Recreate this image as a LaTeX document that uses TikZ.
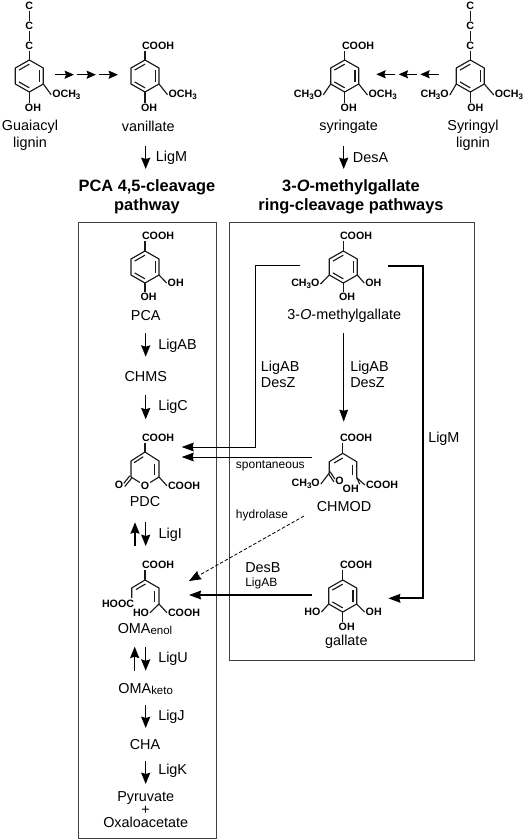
\documentclass[tikz,border=0pt]{standalone}
\usepackage{fontspec}
\setmainfont{Liberation Sans}
\usetikzlibrary{calc,arrows.meta}
\newcommand\chemsub[1]{\raisebox{-0.25ex}{\fontsize{6}{6}\selectfont #1}}
\newcommand\smalltail[1]{\raisebox{-0.15ex}{\fontsize{8.6}{9}\selectfont #1}}
\tikzset{
  lab/.style={inner sep=0pt,font=\fontsize{10.8}{12}\selectfont},
  head/.style={inner sep=0pt,font=\fontsize{12.3}{14}\selectfont\bfseries},
  minor/.style={inner sep=0pt,font=\fontsize{9}{10}\selectfont},
  chem/.style={inner sep=0.6pt,font=\fontsize{8}{9}\selectfont\bfseries},
  bond/.style={line width=0.85pt,black!90},
  panel/.style={draw=black!75,line width=0.85pt},
  rxn/.style={line width=1.1pt,-{Stealth[length=8.5pt,width=6.8pt,inset=1pt]}},
  mini/.style={line width=1.1pt,-{Stealth[length=7pt,width=6pt,inset=1pt]}},
  thin rxn/.style={line width=0.75pt,-{Stealth[length=9pt,width=6.5pt,inset=0.8pt]}},
  bold rxn/.style={line width=1.35pt,-{Stealth[length=9pt,width=6.5pt,inset=0.8pt]}},
  dash rxn/.style={line width=0.6pt,dashed,dash pattern=on 2.6pt off 1.5pt,-{Stealth[length=9pt,width=7pt,inset=0.8pt]}},
}
% hexagon with three inner double bonds
\newcommand\benzene[3]{%
  \coordinate (#1c) at (#2,#3);
  \coordinate (#11) at (#2,{#3-16});
  \coordinate (#12) at ({#2+14},{#3-8});
  \coordinate (#13) at ({#2+14},{#3+8});
  \coordinate (#14) at (#2,{#3+16});
  \coordinate (#15) at ({#2-14},{#3+8});
  \coordinate (#16) at ({#2-14},{#3-8});
  \draw[bond,line join=round] (#11)--(#12)--(#13)--(#14)--(#15)--(#16)--cycle;
  \draw[bond] ($(#1c)!0.74!(#16)$)--($(#1c)!0.74!(#11)$);
  \draw[bond] ($(#1c)!0.74!(#12)$)--($(#1c)!0.74!(#13)$);
  \draw[bond] ($(#1c)!0.74!(#14)$)--($(#1c)!0.74!(#15)$);
}
% named straight arrow
\newcommand\step[6]{%
  \coordinate (#1a) at (#3,#4);
  \coordinate (#1b) at (#5,#6);
  \draw[#2] (#1a)--(#1b);
}
\begin{document}
\begin{tikzpicture}[x=0.75pt,y=-0.75pt]
\useasboundingbox (0,0) rectangle (524,840);
\fill[white] (0,0) rectangle (524,840);

% panels
\node[panel,draw,minimum width=103.5pt,minimum height=462pt,anchor=north west,inner sep=0pt] (leftpanel) at (78,222) {};
\node[panel,draw,minimum width=184pt,minimum height=328.5pt,anchor=north west,inner sep=0pt] (rightpanel) at (228.7,222) {};

% Guaiacyl lignin
\benzene{ga}{29.3}{76}
\node[chem] (gac1) at (29.3,6) {C};
\node[chem] (gac2) at (29.3,26) {C};
\node[chem] (gac3) at (29.3,46) {C};
\draw[bond] (gac1)--(gac2);
\draw[bond] (gac2)--(gac3);
\draw[bond] (gac3)--(ga1);
\node[chem,anchor=west] (gaome) at (51.2,94.7) {OCH\chemsub{3}};
\draw[bond] (ga3)--(gaome.west);
\node[chem] (gaoh) at (33,108) {OH};
\draw[bond] (ga4)--(ga4 |- gaoh.north);
\node[lab] (galab) at (30,126.7) {Guaiacyl};
\node[lab] (galab2) at (30,143.3) {lignin};

% vanillate
\benzene{va}{145}{76}
\node[chem] (vacooh) at (158,46) {COOH};
\draw[bond] (va1)--(va1 |- vacooh.south);
\node[chem,anchor=west] (vaome) at (167.5,94.7) {OCH\chemsub{3}};
\draw[bond] (va3)--(vaome.west);
\node[chem] (vaoh) at (149,108) {OH};
\draw[bond] (va4)--(va4 |- vaoh.north);
\node[lab] (valab) at (148.3,126.7) {vanillate};

\step{gv1}{mini}{55}{74.7}{74}{74.7}
\step{gv2}{mini}{77.3}{74.7}{96}{74.7}
\step{gv3}{mini}{99.3}{74.7}{118}{74.7}

% syringate
\benzene{sy}{344.7}{76}
\node[chem] (sycooh) at (358,46) {COOH};
\draw[bond] (sy1)--(sy1 |- sycooh.south);
\node[chem,anchor=east] (syl) at (323.2,95) {CH\chemsub{3}O};
\draw[bond] (sy5)--(syl.east);
\node[chem,anchor=west] (syr) at (367.5,95) {OCH\chemsub{3}};
\draw[bond] (sy3)--(syr.west);
\node[chem] (syoh) at (348.7,108) {OH};
\draw[bond] (sy4)--(sy4 |- syoh.north);
\node[lab] (sylab) at (348.7,126.7) {syringate};

% Syringyl lignin
\benzene{sl}{470.3}{76}
\node[chem] (slc1) at (470.3,6) {C};
\node[chem] (slc2) at (470.3,26) {C};
\node[chem] (slc3) at (470.3,46) {C};
\draw[bond] (slc1)--(slc2);
\draw[bond] (slc2)--(slc3);
\draw[bond] (slc3)--(sl1);
\node[chem,anchor=east] (sll) at (449.8,95) {CH\chemsub{3}O};
\draw[bond] (sl5)--(sll.east);
\node[chem,anchor=west] (slr) at (493.8,95) {OCH\chemsub{3}};
\draw[bond] (sl3)--(slr.west);
\node[chem] (sloh) at (475.3,108) {OH};
\draw[bond] (sl4)--(sl4 |- sloh.north);
\node[lab] (sllab) at (473,126.7) {Syringyl};
\node[lab] (sllab2) at (473,143.3) {lignin};

\step{ss1}{mini}{438.7}{74.3}{420.3}{74.3}
\step{ss2}{mini}{417}{74.3}{398.7}{74.3}
\step{ss3}{mini}{395.3}{74.3}{376.3}{74.3}

% entry arrows
\step{ligm}{rxn}{145.7}{146}{145.7}{169}
\node[lab,anchor=west] (ligmlab) at (155.7,158) {LigM};
\step{desa}{rxn}{343.7}{146}{343.7}{169}
\node[lab,anchor=west] (desalab) at (352.7,158) {DesA};

% headings
\node[head] (h1) at (147,187) {PCA 4,5-cleavage};
\node[head] (h2) at (147,206.5) {pathway};
\node[head] (h3) at (351,187) {3-\textit{O}-methylgallate};
\node[head] (h4) at (351,206.5) {ring-cleavage pathways};

% PCA
\benzene{pc}{145}{267}
\node[chem] (pccooh) at (158,236) {COOH};
\draw[bond] (pc1)--(pc1 |- pccooh.south);
\node[chem] (pcoh) at (175.7,283) {OH};
\draw[bond] (pc3)--(pcoh.west);
\node[chem] (pcoh2) at (148.7,297) {OH};
\draw[bond] (pc4)--(pc4 |- pcoh2.north);
\node[lab] (pclab) at (145.7,316) {PCA};

\step{ligab}{rxn}{145.7}{333.3}{145.7}{356.7}
\node[lab,anchor=west] (ligablab) at (158,346) {LigAB};
\node[lab] (chms) at (145.7,377) {CHMS};
\step{ligc}{rxn}{145.7}{395}{145.7}{419.3}
\node[lab,anchor=west] (ligclab) at (158,407) {LigC};

% PDC
\coordinate (pd1) at (145,452);
\coordinate (pd2) at (159,461);
\coordinate (pd3) at (159,477);
\coordinate (pd5) at (131,477);
\coordinate (pd6) at (131,461);
\node[chem] (pdo) at (145,485.7) {O};
\node[chem] (pdcooh) at (158,438) {COOH};
\draw[bond] (pd1)--(pd1 |- pdcooh.south);
\draw[bond,line join=round] (pdo)--(pd3)--(pd2)--(pd1)--(pd6)--(pd5)--(pdo);
\draw[bond] ($(pd1)!0.2!(pd6)+(1,3)$)--($(pd1)!0.85!(pd6)+(1,3)$);
\draw[bond] (154.5,464)--(154.5,475);
\node[chem] (pdk) at (119,485) {O};
\draw[bond] ($(pd5)+(-1.2,-1.2)$)--($(pdk.east)+(-0.5,-1.6)$);
\draw[bond] ($(pd5)+(0.6,1.2)$)--($(pdk.east)+(0.5,1.6)$);
\node[chem] (pdc2) at (184,485.7) {COOH};
\draw[bond] (pd3)--(pdc2.west);
\node[lab] (pdlab) at (145,502) {PDC};

% LigI
\step{ligiu}{rxn}{135}{546}{135}{522.3}
\step{ligid}{rxn}{145.7}{522.3}{145.7}{546}
\node[lab,anchor=west] (ligilab) at (158.3,535) {LigI};

% OMA enol
\coordinate (om1) at (145,580);
\coordinate (om2) at (159,588);
\coordinate (om3) at (159,604);
\coordinate (om6) at (131.7,588);
\node[chem] (omcooh) at (158,565) {COOH};
\draw[bond] (om1)--(om1 |- omcooh.south);
\node[chem] (omhooc) at (118,604) {HOOC};
\node[chem] (omho) at (141,612.7) {HO};
\node[chem] (omc2) at (184,612.7) {COOH};
\coordinate (om5) at (131.7,598);
\draw[bond,line join=round] (om5)--(om6)--(om1)--(om2)--(om3);
\draw[bond] (om3)--(omho.east);
\draw[bond] (om3)--(omc2.west);
\draw[bond] (136,589.5)--(145.5,584);
\draw[bond] (154.5,591)--(154.5,602);
\node[lab] (omlab) at (145,629) {OMA\smalltail{enol}};

% LigU
\step{liguu}{rxn}{134.7}{670.7}{134.7}{646.7}
\step{ligud}{rxn}{145.7}{646.7}{145.7}{670.7}
\node[lab,anchor=west] (ligulab) at (158,659) {LigU};
\node[lab] (omk) at (145.7,688.7) {OMA\smalltail{keto}};
\step{ligj}{rxn}{145.7}{705}{145.7}{728}
\node[lab,anchor=west] (ligjlab) at (158,717) {LigJ};
\node[lab] (cha) at (145,745) {CHA};
\step{ligk}{rxn}{145.7}{760.7}{145.7}{784}
\node[lab,anchor=west] (ligklab) at (158,771) {LigK};
\node[lab] (pyr) at (145.7,798) {Pyruvate};
\node[lab] (plus) at (145.7,810) {+};
\node[lab] (oxa) at (145.7,822) {Oxaloacetate};

% 3-O-methylgallate
\benzene{mg}{343.3}{267}
\node[chem] (mgcooh) at (356,236) {COOH};
\draw[bond] (mg1)--(mg1 |- mgcooh.south);
\node[chem,anchor=east] (mgl) at (320.5,284) {CH\chemsub{3}O};
\draw[bond] (mg5)--(mgl.east);
\node[chem] (mgoh) at (373.3,283) {OH};
\draw[bond] (mg3)--(mgoh.west);
\node[chem] (mgoh2) at (347,297) {OH};
\draw[bond] (mg4)--(mg4 |- mgoh2.north);
\node[lab] (mglab) at (344.3,316) {3-\textit{O}-methylgallate};

\step{mid}{thin rxn}{343.7}{333}{343.7}{421.7}
\node[lab,anchor=west,align=left] (midlab) at (350,374) {LigAB\\DesZ};
\node[lab,anchor=west,align=left] (leftlab) at (260.7,374) {LigAB\\DesZ};

% branch from 3-O-methylgallate to PDC
\coordinate (b1s) at (300,265.7);
\coordinate (b1c) at (255.3,265.7);
\coordinate (b1e) at (181.7,447);
\draw[thin rxn] (b1s)--(b1c)--(b1c |- b1e)--(b1e);

% branch to gallate
\coordinate (b2s) at (387.7,265.7);
\coordinate (b2c) at (423.3,265.7);
\coordinate (b2e) at (388.3,598.3);
\draw[bold rxn] (b2s)--(b2c)--(b2c |- b2e)--(b2e);
\node[lab,anchor=west] (ligmr) at (428,439) {LigM};

% CHMOD
\coordinate (ch1) at (342.7,453.3);
\coordinate (ch2) at (356.7,461.7);
\coordinate (ch3) at (356.7,477.7);
\coordinate (ch5) at (329.3,473);
\coordinate (ch6) at (329.3,461.7);
\node[chem] (chcooh) at (356,438) {COOH};
\draw[bond] (ch1)--(ch1 |- chcooh.south);
\draw[bond,line join=round] (ch3)--(ch2)--(ch1)--(ch6)--(ch5);
\draw[bond] (334,463)--(342.7,458);
\draw[bond] (352.5,464.5)--(352.5,475);
\node[chem] (cho) at (339.5,480.5) {O};
\draw[bond] ($(ch5)+(0.8,-1.3)$)--($(cho.west)+(0.5,-1.6)$);
\draw[bond] ($(ch5)+(-0.6,1)$)--($(cho.west)+(-0.3,1.4)$);
\node[chem] (chl) at (305.7,484) {CH\chemsub{3}O};
\draw[bond] (ch5)--(chl.east);
\node[chem] (choh) at (350.7,489) {OH};
\draw[bond] (ch3)--(choh.north east);
\node[chem] (chc2) at (382,485) {COOH};
\draw[bond] (ch3)--(chc2.west);
\node[lab] (chlab) at (344,506.7) {CHMOD};

% spontaneous and hydrolase
\coordinate (sps) at (312,457);
\coordinate (spe) at (181.7,457);
\draw[thin rxn] (sps)--(spe);
\node[minor,anchor=west] (splab) at (235.7,465.5) {spontaneous};
\node[minor,anchor=west] (hylab) at (235.7,515.7) {hydrolase};
\coordinate (hys) at (304,516);
\coordinate (hye) at (189,581);
\draw[dash rxn] (hys)--(hye);

% gallate
\benzene{gl}{342.7}{596}
\node[chem] (glcooh) at (356,565) {COOH};
\draw[bond] (gl1)--(gl1 |- glcooh.south);
\node[chem] (glho) at (312.3,612) {HO};
\draw[bond] (gl5)--(glho.east);
\node[chem] (gloh) at (373.7,612) {OH};
\draw[bond] (gl3)--(gloh.west);
\node[chem] (gloh2) at (346.7,626.7) {OH};
\draw[bond] (gl4)--(gl4 |- gloh2.north);
\node[lab] (gllab) at (346.3,642) {gallate};

% DesB
\coordinate (dbs) at (312,595);
\coordinate (dbe) at (189,595);
\draw[bold rxn] (dbs)--(dbe);
\node[lab,anchor=west] (dblab) at (245,568) {DesB};
\node[minor,anchor=west] (dblab2) at (245,583) {LigAB};
\end{tikzpicture}
\end{document}
